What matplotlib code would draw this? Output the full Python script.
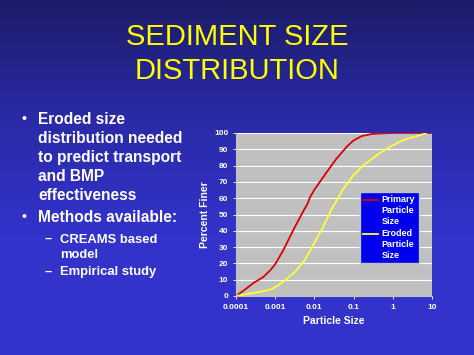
import numpy as np
import matplotlib
matplotlib.use('Agg')
import matplotlib.pyplot as plt
from matplotlib.colors import LinearSegmentedColormap

plt.rcParams['font.family'] = ['Liberation Sans', 'DejaVu Sans']

# data
size_primary = [0.0001, 0.00016, 0.00028, 0.0005, 0.00075, 0.001, 0.0016, 0.0029, 0.0052, 0.0065,
                0.0079, 0.0104, 0.0206, 0.037, 0.067, 0.098, 0.16, 0.29, 0.58, 1, 10]
finer_primary = [0, 3.5, 8, 11.7, 15.8, 19.5, 28, 40.5, 52, 56,
                 61, 65.8, 76, 84.4, 91.6, 95.3, 98.1, 99.4, 99.8, 100, 100]

size_eroded = [0.0001, 0.00028, 0.0005, 0.00082, 0.0011, 0.0018, 0.0032, 0.0057, 0.0092, 0.016,
               0.029, 0.055, 0.098, 0.178, 0.39, 0.85, 1.87, 4.1, 7]
finer_eroded = [0, 1.9, 2.9, 4.3, 6, 9.7, 14.8, 22, 31, 41.5,
                54.3, 65.8, 74, 80.2, 86.4, 91.6, 95.7, 98.1, 99.8]

xticks = [0.0001, 0.001, 0.01, 0.1, 1, 10]
xticklabels = ["0.0001", "0.001", "0.01", "0.1", "1", "10"]

bullets = ["Eroded size\ndistribution needed\nto predict transport\nand BMP\neffectiveness",
           "Methods available:"]
subbullets = ["CREAMS based\nmodel", "Empirical study"]

fig = plt.figure(figsize=(4.74, 3.55), dpi=100)

# slide background gradient
bg = fig.add_axes([0, 0, 1, 1])
cmap = LinearSegmentedColormap.from_list("slide", ["#1c1c68", "#2a2aa8", "#3333cc", "#3434cc"])
grad = np.linspace(0, 1, 256).reshape(-1, 1)
bg.imshow(grad, aspect='auto', cmap=cmap, extent=[0, 1, 0, 1], origin='upper')
bg.set_axis_off()

fig.text(0.5, 0.897, "SEDIMENT SIZE", color="#ffff00", fontsize=21, ha='center', va='center')
fig.text(0.5, 0.799, "DISTRIBUTION", color="#ffff00", fontsize=21, ha='center', va='center')

# bullet text
wt = dict(color="white", fontweight='bold', ha='left')
fig.text(22/474, 1-119/355, "•", fontsize=10, va='center', **wt)
fig.text(38/474, 1-112/355, bullets[0], fontsize=11.2, va='top', linespacing=1.33, **wt)
fig.text(22/474, 1-217/355, "•", fontsize=10, va='center', **wt)
fig.text(38/474, 1-217/355, bullets[1], fontsize=11.2, va='center', **wt)
fig.text(45/474, 1-239/355, "–", fontsize=9.4, va='center', **wt)
fig.text(60/474, 1-234/355, subbullets[0], fontsize=9.4, va='top', linespacing=1.3, **wt)
fig.text(45/474, 1-272/355, "–", fontsize=9.4, va='center', **wt)
fig.text(60/474, 1-272/355, subbullets[1], fontsize=9.4, va='center', **wt)

# chart
ax = fig.add_axes([236/474, 59/355, 196/474, 163/355])
ax.set_facecolor("#c0c0c0")
ax.set_xscale('log')
ax.set_xlim(0.0001, 10)
ax.set_ylim(0, 100)
ax.set_yticks(range(0, 101, 10))
ax.set_xticks(xticks)
ax.set_xticklabels(xticklabels)
ax.minorticks_off()
ax.grid(axis='y', color='white', linewidth=0.8)
ax.set_axisbelow(True)
for s in ['top', 'right']:
    ax.spines[s].set_visible(False)
for s in ['left', 'bottom']:
    ax.spines[s].set_color('#c0c0c0')
ax.tick_params(colors='white', labelsize=6, length=2, width=0.6)
for lab in ax.get_xticklabels() + ax.get_yticklabels():
    lab.set_fontweight('bold')

ax.plot(size_primary, finer_primary, color="#dd0000", linewidth=1.3, solid_joinstyle='round',
        label="Primary\nParticle\nSize")
ax.plot(size_eroded, finer_eroded, color="#ffff33", linewidth=1.3, solid_joinstyle='round',
        label="Eroded\nParticle\nSize")

ax.set_xlabel("Particle Size", color='white', fontsize=7.5, fontweight='bold', labelpad=4)
ax.set_ylabel("Percent Finer", color='white', fontsize=7.5, fontweight='bold', labelpad=3)

leg = ax.legend(loc='center right', bbox_to_anchor=(0.955, 0.42), fontsize=6.5, frameon=True,
                facecolor="#0000ee", edgecolor="#c0c0c0", framealpha=1, fancybox=False,
                handlelength=1.6, handletextpad=0.4, labelspacing=0.4, borderpad=0.4)
for t in leg.get_texts():
    t.set_color('white')
    t.set_fontweight('bold')
    t.set_linespacing(1.25)
# put the legend lines next to the first text line, as in the slide
for h in leg.legend_handles:
    y = h.get_ydata()
    h.set_ydata([v + 8 for v in y])

fig.savefig("out.png", dpi=100)
